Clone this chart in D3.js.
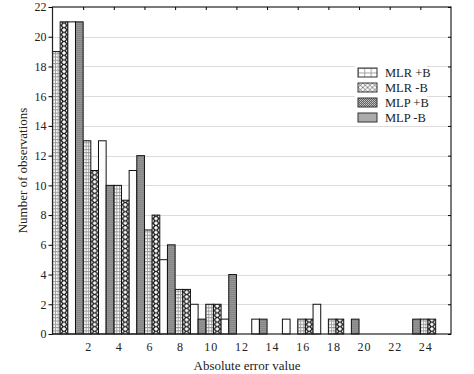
<!DOCTYPE html>
<html>
<head>
<meta charset="utf-8">
<script src="https://cdn.jsdelivr.net/npm/d3@7"></script>
<style>
  body { margin: 0; background: #fff; }
  text { font-family: "Liberation Serif", "DejaVu Serif", serif; fill: #222; }
</style>
</head>
<body>
<div id="chart"></div>
<script>
// bins are 2 units wide: 0-2, 2-4, ... 24-26
var binStarts = [0, 2, 4, 6, 8, 10, 12, 14, 16, 18, 20, 22, 24];
var xTicks = [2, 4, 6, 8, 10, 12, 14, 16, 18, 20, 22, 24];
var yTicks = [0, 2, 4, 6, 8, 10, 12, 14, 16, 18, 20, 22];

var legendNames = ["MLR +B", "MLR -B", "MLP +B", "MLP -B"];
// order the bars appear inside each bin
var barOrder = ["MLR +B", "MLR -B", "MLP -B", "MLP +B"];

var mlrPlusB  = [19, 13, 10, 7, 3, 2, 0, 0, 1, 1, 0, 0, 1];
var mlrMinusB = [21, 11, 9, 8, 3, 2, 0, 0, 1, 1, 0, 0, 1];
var mlpPlusB  = [21, 10, 12, 6, 1, 4, 1, 0, 0, 1, 0, 1, 0];
var mlpMinusB = [21, 13, 11, 5, 2, 1, 1, 1, 2, 0, 0, 0, 0];

var values = {
    "MLR +B": mlrPlusB,
    "MLR -B": mlrMinusB,
    "MLP +B": mlpPlusB,
    "MLP -B": mlpMinusB
};

var margin = { top: 7, right: 23, bottom: 40, left: 52.5 };
var W = 474, H = 374;
var width = W - margin.left - margin.right;
var height = H - margin.top - margin.bottom;

var x = d3.scaleLinear().domain([0, 26]).range([0, width]);
var y = d3.scaleLinear().domain([0, 22]).range([height, 0]);
var xSub = d3.scaleBand().domain(barOrder).range([0, x(2) - x(0)]).padding(0);
var bw = xSub.bandwidth();

var svg = d3.select("#chart").append("svg")
    .attr("width", W)
    .attr("height", H);

// patterns
var defs = svg.append("defs");

function gridPattern(id, w, h) {
    var p = defs.append("pattern").attr("id", id)
        .attr("patternUnits", "userSpaceOnUse")
        .attr("width", w).attr("height", h);
    p.append("rect").attr("width", w).attr("height", h).attr("fill", "#fff");
    p.append("path").attr("d", "M0,0.5H" + w + "M0.5,0V" + h)
        .attr("stroke", "#999").attr("stroke-width", 0.9);
}
gridPattern("grid", bw / 3, 3.3);
gridPattern("gridBig", 6.3, 4.5);

function crossPattern(id, w, h) {
    var p = defs.append("pattern").attr("id", id)
        .attr("patternUnits", "userSpaceOnUse")
        .attr("width", w).attr("height", h);
    p.append("rect").attr("width", w).attr("height", h).attr("fill", "#111");
    var rx = 2.2, ry = h * 0.45;
    [[w / 2, 0], [w / 2, h], [0, h / 2], [w, h / 2]].forEach(function (c) {
        p.append("path")
            .attr("d", "M" + (c[0] - rx) + "," + c[1] + "L" + c[0] + "," + (c[1] - ry) +
                "L" + (c[0] + rx) + "," + c[1] + "L" + c[0] + "," + (c[1] + ry) + "Z")
            .attr("fill", "#fff");
    });
}
crossPattern("cross", bw, 4.6);
crossPattern("crossLeg", 4.8, 4.5);

var dots = defs.append("pattern").attr("id", "dots")
    .attr("patternUnits", "userSpaceOnUse")
    .attr("width", 2).attr("height", 2);
dots.append("rect").attr("width", 2).attr("height", 2).attr("fill", "#626262");
dots.append("rect").attr("width", 1).attr("height", 1).attr("fill", "#c8c8c8");
dots.append("rect").attr("x", 1).attr("y", 1).attr("width", 1).attr("height", 1).attr("fill", "#acacac");

var fills = {
    "MLR +B": "url(#grid)",
    "MLR -B": "url(#cross)",
    "MLP +B": "url(#dots)",
    "MLP -B": "#fcfcfc"
};
var legendFills = {
    "MLR +B": "url(#gridBig)",
    "MLR -B": "url(#crossLeg)",
    "MLP +B": "url(#dots)",
    "MLP -B": "#ababab"
};

var g = svg.append("g")
    .attr("transform", "translate(" + margin.left + "," + margin.top + ")");

// horizontal grid lines
g.selectAll(".hgrid")
    .data(yTicks.filter(function (d) { return d > 0 && d < 22; }))
    .enter().append("line")
    .attr("x1", 0).attr("x2", width)
    .attr("y1", function (d) { return Math.round(y(d)) + 0.5; })
    .attr("y2", function (d) { return Math.round(y(d)) + 0.5; })
    .attr("stroke", "#dcdcdc");

// bars
var bars = [];
barOrder.forEach(function (name) {
    values[name].forEach(function (v, i) {
        if (v > 0) bars.push({ name: name, bin: binStarts[i], value: v });
    });
});

g.selectAll(".bar")
    .data(bars)
    .enter().append("rect")
    .attr("x", function (d) { return x(d.bin) + xSub(d.name); })
    .attr("y", function (d) { return y(d.value); })
    .attr("width", bw)
    .attr("height", function (d) { return height - y(d.value); })
    .attr("fill", function (d) { return fills[d.name]; })
    .attr("stroke", "#111")
    .attr("stroke-width", 1);

// frame
g.append("rect")
    .attr("x", 0).attr("y", 0)
    .attr("width", width).attr("height", height)
    .attr("fill", "none").attr("stroke", "#222").attr("stroke-width", 1.2);

// left axis
var yAxis = g.append("g")
    .call(d3.axisLeft(y).tickValues(yTicks).tickSize(4).tickPadding(2));
yAxis.select(".domain").remove();
yAxis.selectAll("text").attr("font-size", "12px")
    .style("font-family", "Liberation Serif, serif").attr("fill", "#222");

// inner ticks on right and top
g.append("g").attr("transform", "translate(" + width + ",0)")
    .call(d3.axisLeft(y).tickValues(yTicks).tickSize(3).tickFormat(""))
    .select(".domain").remove();
g.append("g")
    .call(d3.axisBottom(x).tickValues(xTicks).tickSize(3).tickFormat(""))
    .select(".domain").remove();

// bottom axis labels
var xAxis = g.append("g")
    .attr("transform", "translate(0," + height + ")")
    .call(d3.axisBottom(x).tickValues(xTicks).tickSize(0).tickPadding(8));
xAxis.select(".domain").remove();
xAxis.selectAll("text").attr("font-size", "12px").attr("dx", 5)
    .style("letter-spacing", "1px")
    .style("font-family", "Liberation Serif, serif").attr("fill", "#222");

// axis titles
svg.append("text")
    .attr("x", 247).attr("y", 370)
    .attr("text-anchor", "middle")
    .attr("font-size", "13px")
    .text("Absolute error value");

svg.append("text")
    .attr("transform", "translate(27," + (margin.top + height / 2) + ") rotate(-90)")
    .attr("text-anchor", "middle")
    .attr("font-size", "13px")
    .text("Number of observations");

// legend
var legend = svg.append("g").attr("transform", "translate(358,68)");
legend.append("rect")
    .attr("x", -3).attr("y", -6).attr("width", 72).attr("height", 60)
    .attr("fill", "#fff");
var items = legend.selectAll(".item")
    .data(legendNames)
    .enter().append("g")
    .attr("transform", function (d, i) { return "translate(0," + i * 15 + ")"; });
items.append("rect")
    .attr("width", 19).attr("height", 9)
    .attr("fill", function (d) { return legendFills[d]; })
    .attr("stroke", "#333").attr("stroke-width", 1);
items.append("text")
    .attr("x", 27).attr("y", 8.5)
    .attr("font-size", "12.5px")
    .text(function (d) { return d; });
</script>
</body>
</html>
